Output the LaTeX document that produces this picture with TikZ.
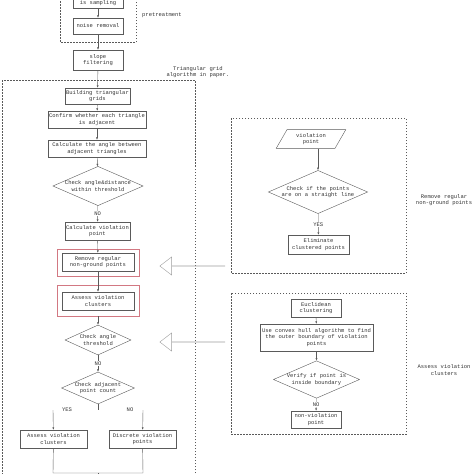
\documentclass[tikz,border=0pt]{standalone}
\usepackage{fontspec}
\setmonofont{Liberation Mono}
\usepackage{xcolor}
\usetikzlibrary{arrows.meta}
\usetikzlibrary{shapes}
\usetikzlibrary{positioning}
\definecolor{linegray}{RGB}{90,90,90}
\definecolor{boxred}{RGB}{210,120,130}

\tikzset{
  every node/.style={font=\ttfamily\fontsize{5.5}{6.5}\selectfont, text=black!80, align=center, inner sep=1pt},
  stepbox/.style={draw=linegray, rectangle, thin},
  redbox/.style={draw=boxred, rectangle, thin},
  choice/.style={draw=linegray, diamond, aspect=2.3, inner sep=0pt},
  datainput/.style={draw=linegray, trapezium, trapezium left angle=60, trapezium right angle=120, inner sep=0pt},
  groupbox/.style={draw=linegray, dashed, dash pattern=on 1.5pt off 1.5pt, thin},
  flow/.style={draw=linegray, thin, -{Latex[length=2.5pt,width=2pt]}},
  bigarrow/.style={draw=linegray!60, single arrow, shape border rotate=180, single arrow tip angle=75,
    single arrow head extend=6.5pt, minimum width=18pt, minimum height=65pt, inner sep=0pt}
}

\begin{document}
\begin{tikzpicture}[x=1pt,y=-1pt]
  \useasboundingbox (0,0) rectangle (474,474);
  % dashed group frames
  \draw[groupbox] (60,-5) rectangle (136,42);
  \draw[groupbox] (2,80) rectangle (195,480);
  \draw[groupbox] (231,118) rectangle (406,273);
  \draw[groupbox] (231,293) rectangle (406,434);
  \node (pretext) at (162,15) {pretreatment};
  \node (gridtext) at (198,72) {Triangular grid\\algorithm in paper.};
  \node (remtext) at (444,200) {Remove regular\\non-ground points};
  \node (asstext) at (444,370) {Assess violation\\clusters};

  % main flow
  \begin{scope}[every node/.append style={stepbox}]
    \node[minimum width=50pt, minimum height=10pt] (sampling) at (98,3) {is sampling};
    \node[minimum width=50pt, minimum height=16pt] (noise) at (98,26) {noise removal};
    \node[minimum width=50pt, minimum height=20pt] (slope) at (98,60) {slope\\filtering};
    \node[minimum width=65pt, minimum height=16pt] (build) at (97.5,96) {Building triangular\\grids};
    \node[minimum width=98pt, minimum height=17pt] (confirm) at (97,119.5) {Confirm whether each triangle\\is adjacent};
    \node[minimum width=98pt, minimum height=17pt] (angle) at (97,148.5) {Calculate the angle between\\adjacent triangles};
    \node[minimum width=65pt, minimum height=18pt] (violation) at (97.5,231) {Calculate violation\\point};
    \node[minimum width=72pt, minimum height=18pt] (remove) at (98,262) {Remove regular\\non-ground points};
    \node[minimum width=72pt, minimum height=18pt] (assess) at (98,301) {Assess violation\\clusters};
    \node[minimum width=67pt, minimum height=18pt] (clusters) at (53.5,439) {Assess violation\\clusters};
    \node[minimum width=67pt, minimum height=18pt] (discrete) at (142.5,439) {Discrete violation\\points};
  \end{scope}
  \node[redbox, minimum width=82pt, minimum height=27pt] (removeframe) at (98,262.5) {};
  \node[redbox, minimum width=82pt, minimum height=31pt] (assessframe) at (98,300.5) {};
  \node[choice, minimum width=87pt, minimum height=38pt] (threshold) at (98,186) {Check angle\&distance\\within threshold};
  \node[choice, minimum width=66pt, minimum height=30pt] (anglecheck) at (98,340) {Check angle\\threshold};
  \node[choice, minimum width=66pt, minimum height=32pt] (countcheck) at (98,388) {Check adjacent\\point count};
  \coordinate (yesstart) at (53,410);
  \coordinate (nostart) at (143,410);
  \coordinate (countend) at (98,410);
  \coordinate (joinleft) at (53,473);
  \coordinate (joinright) at (143,473);
  \coordinate (joinmid) at (98,473);
  \coordinate (joinout) at (98,480);

  % sub flows
  \node[datainput, minimum width=70pt, minimum height=18pt] (vpoint) at (311,139) {violation\\point};
  \node[choice, minimum width=92pt, minimum height=40pt] (straight) at (318,192) {Check if the points\\are on a straight line};
  \node[stepbox, minimum width=61pt, minimum height=19pt] (eliminate) at (318.5,244.5) {Eliminate\\clustered points};
  \node[stepbox, minimum width=50pt, minimum height=18pt] (euclid) at (316,308) {Euclidean\\clustering};
  \node[stepbox, minimum width=113pt, minimum height=27pt] (hull) at (316.5,337.5) {Use convex hull algorithm to find\\the outer boundary of violation\\points};
  \node[choice, minimum width=85pt, minimum height=37pt] (inside) at (316.5,379.5) {Verify if point is\\inside boundary};
  \node[stepbox, minimum width=50pt, minimum height=17pt] (nonviol) at (316,419.5) {non-violation\\point};

  % hollow arrows
  \node[bigarrow] (toremove) at (192.5,266) {};
  \node[bigarrow] (toassess) at (192.5,342) {};

  % connectors
  \draw[flow] (sampling) -- (noise);
  \draw[flow] (noise) -- (slope);
  \draw[flow] (slope) -- (build);
  \draw[flow] (build) -- (confirm);
  \draw[flow] (confirm) -- (angle);
  \draw[flow] (angle) -- (threshold);
  \draw[flow] (threshold) -- node[fill=white, inner sep=0.5pt] {NO} (violation);
  \draw[flow] (violation) -- (remove);
  \draw[flow] (remove) -- (assess);
  \draw[flow] (assessframe) -- (anglecheck);
  \draw[flow] (anglecheck) -- node[fill=white, inner sep=0.5pt] {NO} (countcheck);
  \draw[draw=linegray, thin] (countcheck) -- (countend);
  \draw[flow] (yesstart) -- (clusters);
  \draw[flow] (nostart) -- (discrete);
  \node (yeslabel) at (67,410) {YES};
  \node (nolabel) at (130,410) {NO};
  \draw[draw=linegray, thin] (clusters) -- (joinleft) -- (joinright) -- (discrete);
  \draw[draw=linegray, thin] (joinmid) -- (joinout);
  \draw[flow] (vpoint.south -| straight.north) -- (straight);
  \draw[flow] (straight) -- node[fill=white, inner sep=0.5pt] {YES} (eliminate);
  \draw[flow] (euclid) -- (hull);
  \draw[flow] (hull) -- (inside);
  \draw[flow] (inside) -- node[fill=white, inner sep=0.5pt] {NO} (nonviol);
\end{tikzpicture}
\end{document}
